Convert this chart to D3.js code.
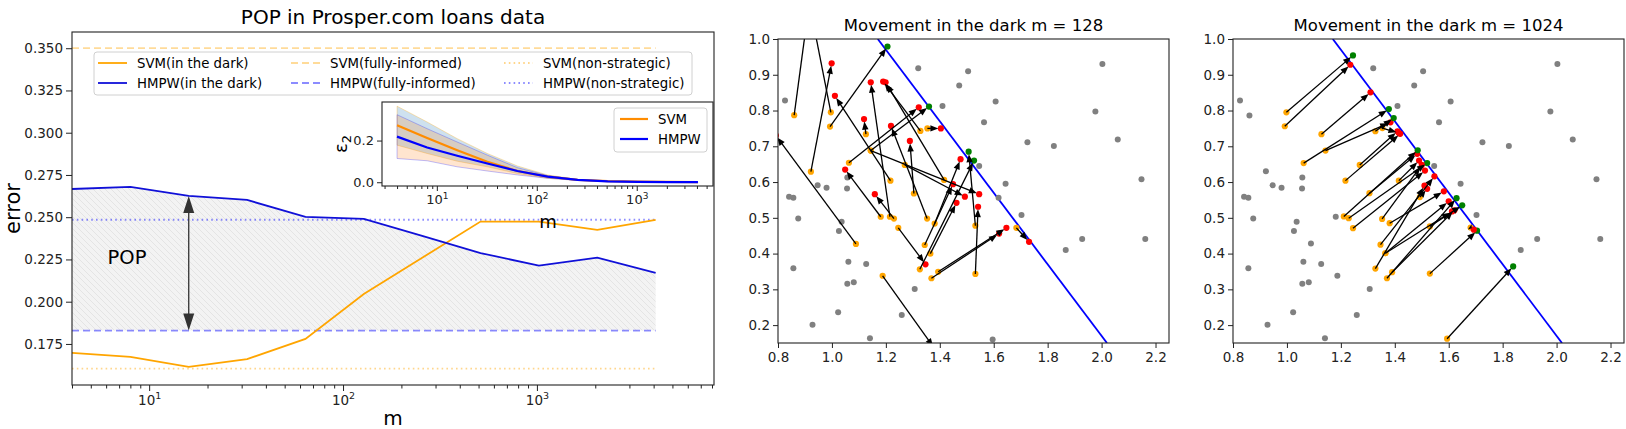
<!DOCTYPE html>
<html>
<head>
<meta charset="utf-8">
<script src="https://cdn.jsdelivr.net/npm/d3@7"></script>
<style>
  body { margin: 0; background: #fff; }
  svg { display: block; }
</style>
</head>
<body>
<svg id="chart" width="1626" height="429"></svg>
<script>
// Données du panneau de gauche (erreur selon m)
const mValues = [4, 8, 16, 32, 64, 128, 256, 512, 1024, 2048, 4096];
const svmDark = [0.1697, 0.1673, 0.1614, 0.1660, 0.1780, 0.2046, 0.2260, 0.2474, 0.2474, 0.2425, 0.2484];
const hmpwDark = [0.2667, 0.2679, 0.2626, 0.2602, 0.2502, 0.2490, 0.2390, 0.2288, 0.2213, 0.2261, 0.2170];
const svmFull = 0.350;
const hmpwFull = 0.1829;
const svmNonStrategic = 0.1604;
const hmpwNonStrategic = 0.2485;
const yTicksMain = [0.175, 0.200, 0.225, 0.250, 0.275, 0.300, 0.325, 0.350];

// Encart : epsilon_2 selon m
const svmEps = [0.273, 0.212, 0.154, 0.098, 0.054, 0.027, 0.011, 0.005, 0.003, 0.002, 0.001];
const hmpwEps = [0.219, 0.167, 0.127, 0.090, 0.054, 0.027, 0.011, 0.004, 0.002, 0.001, 0.001];
const svmEpsHigh = [0.365, 0.289, 0.209, 0.138, 0.078, 0.035, 0.014, 0.006, 0.003, 0.002, 0.001];
const svmEpsLow = [0.178, 0.138, 0.101, 0.074, 0.042, 0.019, 0.009, 0.004, 0.002, 0.001, 0.000];
const hmpwEpsHigh = [0.324, 0.257, 0.193, 0.130, 0.070, 0.032, 0.013, 0.006, 0.003, 0.002, 0.001];
const hmpwEpsLow = [0.114, 0.103, 0.074, 0.054, 0.035, 0.019, 0.009, 0.003, 0.001, 0.001, 0.000];

// Panneaux de mouvement : points fixes (gris)
const grayCommon = [
  [0.826, 0.828], [1.320, 0.918], [1.505, 0.910], [1.472, 0.870], [1.607, 0.825], [1.410, 0.813],
  [1.564, 0.767], [2.003, 0.930], [1.977, 0.797], [2.060, 0.719], [1.725, 0.711], [1.823, 0.701],
  [1.546, 0.645], [1.644, 0.595], [1.703, 0.508], [2.148, 0.608], [1.928, 0.441], [1.867, 0.410],
  [2.162, 0.441], [1.057, 0.613], [1.056, 0.582], [0.947, 0.591], [0.980, 0.584], [0.841, 0.559],
  [0.857, 0.556], [0.875, 0.498], [1.036, 0.489], [1.026, 0.463], [0.857, 0.359], [1.061, 0.377],
  [1.127, 0.371], [1.057, 0.316], [1.081, 0.320], [1.307, 0.301], [1.023, 0.236], [0.928, 0.201],
  [1.259, 0.228], [1.141, 0.163]
];
const grayOnly128 = [[1.596, 0.160], [1.618, 0.556]];
const grayOnly1024 = [[0.861, 0.786], [0.922, 0.630], [1.089, 0.428], [1.187, 0.338], [1.181, 0.503]];

// Déplacements : [x départ, y départ, x arrivée, y arrivée, couleur d'arrivée]
const moves128 = [
  [0.860, 0.787, 0.905, 1.040, 'red'], [0.996, 0.795, 0.932, 1.040, 'red'],
  [0.922, 0.629, 0.999, 0.932, 'red'], [0.993, 0.755, 1.206, 0.979, 'green'],
  [1.089, 0.427, 0.792, 0.730, 'red'], [1.217, 0.604, 1.011, 0.841, 'red'],
  [1.188, 0.338, 1.380, 0.135, 'red'], [1.063, 0.654, 1.322, 0.809, 'red'],
  [1.144, 0.688, 1.360, 0.811, 'green'], [1.126, 0.734, 1.119, 0.776, 'red'],
  [1.215, 0.503, 1.144, 0.879, 'red'], [1.328, 0.743, 1.190, 0.881, 'red'],
  [1.416, 0.606, 1.199, 0.879, 'red'], [1.353, 0.498, 1.219, 0.757, 'red'],
  [1.354, 0.750, 1.404, 0.750, 'red'], [1.304, 0.568, 1.289, 0.715, 'red'],
  [1.181, 0.503, 1.049, 0.635, 'red'], [1.230, 0.498, 1.159, 0.566, 'red'],
  [1.381, 0.484, 1.477, 0.664, 'red'], [1.532, 0.478, 1.507, 0.685, 'green'],
  [1.344, 0.424, 1.449, 0.594, 'red'], [1.365, 0.400, 1.462, 0.542, 'red'],
  [1.326, 0.356, 1.527, 0.660, 'green'], [1.532, 0.343, 1.542, 0.531, 'red'],
  [1.246, 0.472, 1.347, 0.370, 'red'], [1.394, 0.349, 1.647, 0.472, 'red'],
  [1.369, 0.331, 1.620, 0.456, 'red'], [1.684, 0.472, 1.731, 0.433, 'red'],
  [1.144, 0.688, 1.546, 0.566, 'red'], [1.270, 0.648, 1.493, 0.559, 'red']
];
const moves1024 = [
  [0.998, 0.795, 1.245, 0.954, 'green'], [0.992, 0.756, 1.235, 0.928, 'red'],
  [1.128, 0.734, 1.310, 0.851, 'red'], [1.062, 0.653, 1.378, 0.804, 'green'],
  [1.143, 0.688, 1.384, 0.767, 'red'], [1.328, 0.742, 1.396, 0.779, 'green'],
  [1.354, 0.751, 1.415, 0.737, 'red'], [1.270, 0.648, 1.410, 0.742, 'red'],
  [1.217, 0.604, 1.420, 0.735, 'red'], [1.306, 0.569, 1.483, 0.679, 'red'],
  [1.211, 0.504, 1.485, 0.689, 'green'], [1.229, 0.499, 1.520, 0.653, 'green'],
  [1.245, 0.471, 1.512, 0.632, 'red'], [1.353, 0.497, 1.500, 0.648, 'red'],
  [1.415, 0.604, 1.490, 0.660, 'red'], [1.381, 0.485, 1.582, 0.574, 'red'],
  [1.493, 0.558, 1.520, 0.581, 'red'], [1.347, 0.425, 1.547, 0.616, 'red'],
  [1.365, 0.401, 1.600, 0.546, 'red'], [1.328, 0.358, 1.510, 0.590, 'red'],
  [1.390, 0.348, 1.621, 0.521, 'red'], [1.371, 0.331, 1.629, 0.555, 'green'],
  [1.530, 0.476, 1.650, 0.535, 'green'], [1.530, 0.344, 1.705, 0.464, 'green'],
  [1.681, 0.473, 1.693, 0.467, 'red'], [1.594, 0.162, 1.839, 0.364, 'green'],
  [1.365, 0.401, 1.612, 0.518, 'red']
];
// Frontière de décision
const boundary = [[1.17, 1.0], [2.02, 0.15]];
const xTicksMove = [0.8, 1.0, 1.2, 1.4, 1.6, 1.8, 2.0, 2.2];
const yTicksMove = [0.2, 0.3, 0.4, 0.5, 0.6, 0.7, 0.8, 0.9, 1.0];

const font = '"DejaVu Sans", sans-serif';
const ink = '#222';
const svg = d3.select('#chart');
const defs = svg.append('defs');

// Motif hachuré pour la zone POP
const hatch = defs.append('pattern')
    .attr('id', 'hatch')
    .attr('patternUnits', 'userSpaceOnUse')
    .attr('width', 6)
    .attr('height', 6);
hatch.append('rect').attr('width', 6).attr('height', 6).attr('fill', '#f3f3f3');
hatch.append('path')
    .attr('d', 'M0,0 L6,6 M-1,5 L1,7 M5,-1 L7,1')
    .attr('stroke', '#e2e2e2')
    .attr('stroke-width', 0.9);

function styleAxis(g, size) {
    g.select('.domain').remove();
    g.attr('font-family', font).attr('font-size', size);
    g.selectAll('.tick line').attr('stroke', ink);
    g.selectAll('.tick text').attr('fill', ink);
}

// Étiquettes 10^k
function powerLabels(g, supSize) {
    g.selectAll('.tick text').each(function (d) {
        const t = d3.select(this).text('');
        t.append('tspan').text('10');
        t.append('tspan')
            .attr('dy', '-0.55em')
            .attr('font-size', supSize)
            .text(Math.round(Math.log10(d)));
    });
}

function minorLogTicks(domain) {
    const out = [];
    for (let p = 0; p < 5; p++) {
        for (let k = 2; k <= 9; k++) {
            const v = k * Math.pow(10, p);
            if (v >= domain[0] && v <= domain[1]) out.push(v);
        }
    }
    return out;
}

// ---------- Panneau de gauche ----------
const main = { left: 72, top: 32, right: 714, bottom: 385 };
const xMain = d3.scaleLog().domain([4, 8192]).range([main.left, main.right]);
const yMain = d3.scaleLinear().domain([0.1507, 0.3596]).range([main.bottom, main.top]);
const rows = mValues.map((m, i) => ({ m, svm: svmDark[i], hmpw: hmpwDark[i] }));

svg.append('path')
    .datum(rows)
    .attr('fill', 'url(#hatch)')
    .attr('d', d3.area()
        .x(d => xMain(d.m))
        .y0(yMain(hmpwFull))
        .y1(d => yMain(d.hmpw)));

const mExtent = d3.extent(mValues);
const refLines = [
    { v: svmFull, color: 'rgba(255,165,0,0.4)', dash: '7,4' },
    { v: hmpwFull, color: 'rgba(0,0,255,0.45)', dash: '7,4' },
    { v: svmNonStrategic, color: 'rgba(255,165,0,0.45)', dash: '1.6,3.2' },
    { v: hmpwNonStrategic, color: 'rgba(0,0,255,0.45)', dash: '1.6,3.2' }
];
svg.append('g')
    .selectAll('line')
    .data(refLines)
    .enter()
    .append('line')
    .attr('x1', xMain(mExtent[0]))
    .attr('x2', xMain(mExtent[1]))
    .attr('y1', d => yMain(d.v))
    .attr('y2', d => yMain(d.v))
    .attr('stroke', d => d.color)
    .attr('stroke-width', 1.8)
    .attr('stroke-dasharray', d => d.dash);

svg.append('path')
    .datum(rows)
    .attr('fill', 'none')
    .attr('stroke', 'orange')
    .attr('stroke-width', 1.8)
    .attr('d', d3.line().x(d => xMain(d.m)).y(d => yMain(d.svm)));

svg.append('path')
    .datum(rows)
    .attr('fill', 'none')
    .attr('stroke', '#1010d8')
    .attr('stroke-width', 1.8)
    .attr('d', d3.line().x(d => xMain(d.m)).y(d => yMain(d.hmpw)));

// Flèche double POP à m = 16
const popX = xMain(mValues[2]);
const popTop = yMain(hmpwDark[2]);
const popBottom = yMain(hmpwFull);
svg.append('line')
    .attr('x1', popX).attr('x2', popX)
    .attr('y1', popTop + 15).attr('y2', popBottom - 15)
    .attr('stroke', '#333')
    .attr('stroke-width', 1.3);
svg.append('path')
    .attr('fill', '#333')
    .attr('d', `M${popX},${popTop} L${popX - 5.5},${popTop + 17} L${popX + 5.5},${popTop + 17} Z
                M${popX},${popBottom} L${popX - 5.5},${popBottom - 17} L${popX + 5.5},${popBottom - 17} Z`);
svg.append('text')
    .attr('x', 127)
    .attr('y', 264)
    .attr('text-anchor', 'middle')
    .attr('font-family', font)
    .attr('font-size', 19.5)
    .text('POP');

// Axes du panneau de gauche
const gxMain = svg.append('g')
    .attr('transform', `translate(0,${main.bottom})`)
    .call(d3.axisBottom(xMain).tickValues([10, 100, 1000]).tickSize(6).tickPadding(4));
styleAxis(gxMain, 13.5);
powerLabels(gxMain, 9.5);
const gxMainMinor = svg.append('g')
    .attr('transform', `translate(0,${main.bottom})`)
    .call(d3.axisBottom(xMain).tickValues(minorLogTicks([4, 8192])).tickSize(3.5).tickFormat(''));
styleAxis(gxMainMinor, 10);

const gyMain = svg.append('g')
    .attr('transform', `translate(${main.left},0)`)
    .call(d3.axisLeft(yMain).tickValues(yTicksMain).tickSize(6).tickPadding(3).tickFormat(d3.format('.3f')));
styleAxis(gyMain, 13.5);

svg.append('rect')
    .attr('x', main.left).attr('y', main.top)
    .attr('width', main.right - main.left).attr('height', main.bottom - main.top)
    .attr('fill', 'none').attr('stroke', ink).attr('stroke-width', 1.1);

svg.append('text')
    .attr('x', (main.left + main.right) / 2).attr('y', 24)
    .attr('text-anchor', 'middle')
    .attr('font-family', font).attr('font-size', 20)
    .text('POP in Prosper.com loans data');
svg.append('text')
    .attr('x', (main.left + main.right) / 2).attr('y', 425)
    .attr('text-anchor', 'middle')
    .attr('font-family', font).attr('font-size', 20)
    .text('m');
svg.append('text')
    .attr('transform', `translate(20,${(main.top + main.bottom) / 2}) rotate(-90)`)
    .attr('text-anchor', 'middle')
    .attr('font-family', font).attr('font-size', 21)
    .text('error');

// Légende principale
const legendItems = [
    { label: 'SVM(in the dark)', color: 'orange', dash: null, x: 98, row: 0 },
    { label: 'HMPW(in the dark)', color: '#1010d8', dash: null, x: 98, row: 1 },
    { label: 'SVM(fully-informed)', color: 'rgba(255,165,0,0.4)', dash: '7,4', x: 291, row: 0 },
    { label: 'HMPW(fully-informed)', color: 'rgba(0,0,255,0.45)', dash: '7,4', x: 291, row: 1 },
    { label: 'SVM(non-strategic)', color: 'rgba(255,165,0,0.45)', dash: '1.6,3.2', x: 504, row: 0 },
    { label: 'HMPW(non-strategic)', color: 'rgba(0,0,255,0.45)', dash: '1.6,3.2', x: 504, row: 1 }
];
const legend = svg.append('g');
legend.append('rect')
    .attr('x', 94).attr('y', 52).attr('width', 598).attr('height', 43).attr('rx', 3)
    .attr('fill', 'white').attr('fill-opacity', 0.8)
    .attr('stroke', '#d0d0d0');
legendItems.forEach(it => {
    const ly = 63 + it.row * 20;
    legend.append('line')
        .attr('x1', it.x).attr('x2', it.x + 29)
        .attr('y1', ly).attr('y2', ly)
        .attr('stroke', it.color).attr('stroke-width', 1.8)
        .attr('stroke-dasharray', it.dash);
    legend.append('text')
        .attr('x', it.x + 39).attr('y', ly + 5)
        .attr('font-family', font).attr('font-size', 13.3)
        .text(it.label);
});

// ---------- Encart epsilon_2 ----------
const inset = { left: 382, top: 102, right: 713, bottom: 186 };
const xIn = d3.scaleLog().domain([Math.pow(10, 0.4515), Math.pow(10, 3.7628)]).range([inset.left, inset.right]);
const yIn = d3.scaleLinear().domain([-0.018, 0.385]).range([inset.bottom, inset.top]);
const epsRows = mValues.map((m, i) => ({
    m, svm: svmEps[i], hmpw: hmpwEps[i],
    svmHi: svmEpsHigh[i], svmLo: svmEpsLow[i], hmpwHi: hmpwEpsHigh[i], hmpwLo: hmpwEpsLow[i]
}));

svg.append('rect')
    .attr('x', inset.left).attr('y', inset.top)
    .attr('width', inset.right - inset.left).attr('height', inset.bottom - inset.top)
    .attr('fill', 'white');

svg.append('path')
    .datum(epsRows)
    .attr('fill', '#1f77b4').attr('fill-opacity', 0.22)
    .attr('stroke', 'orange').attr('stroke-opacity', 0.3)
    .attr('d', d3.area().x(d => xIn(d.m)).y0(d => yIn(d.svmLo)).y1(d => yIn(d.svmHi)));
svg.append('path')
    .datum(epsRows)
    .attr('fill', '#ff7f0e').attr('fill-opacity', 0.2)
    .attr('stroke', 'blue').attr('stroke-opacity', 0.25)
    .attr('d', d3.area().x(d => xIn(d.m)).y0(d => yIn(d.hmpwLo)).y1(d => yIn(d.hmpwHi)));
svg.append('path')
    .datum(epsRows)
    .attr('fill', 'none').attr('stroke', 'darkorange').attr('stroke-width', 2.2)
    .attr('d', d3.line().x(d => xIn(d.m)).y(d => yIn(d.svm)));
svg.append('path')
    .datum(epsRows)
    .attr('fill', 'none').attr('stroke', 'blue').attr('stroke-width', 2.2)
    .attr('d', d3.line().x(d => xIn(d.m)).y(d => yIn(d.hmpw)));

const gxIn = svg.append('g')
    .attr('transform', `translate(0,${inset.bottom})`)
    .call(d3.axisBottom(xIn).tickValues([10, 100, 1000]).tickSize(5).tickPadding(4));
styleAxis(gxIn, 13);
powerLabels(gxIn, 9);
const gxInMinor = svg.append('g')
    .attr('transform', `translate(0,${inset.bottom})`)
    .call(d3.axisBottom(xIn).tickValues(minorLogTicks(xIn.domain())).tickSize(3).tickFormat(''));
styleAxis(gxInMinor, 10);
const gyIn = svg.append('g')
    .attr('transform', `translate(${inset.left},0)`)
    .call(d3.axisLeft(yIn).tickValues([0, 0.2]).tickSize(5).tickPadding(3).tickFormat(d3.format('.1f')));
styleAxis(gyIn, 13);

svg.append('rect')
    .attr('x', inset.left).attr('y', inset.top)
    .attr('width', inset.right - inset.left).attr('height', inset.bottom - inset.top)
    .attr('fill', 'none').attr('stroke', ink).attr('stroke-width', 1.1);

svg.append('text')
    .attr('x', 548).attr('y', 228)
    .attr('text-anchor', 'middle')
    .attr('font-family', font).attr('font-size', 18)
    .text('m');
const epsLabel = svg.append('text')
    .attr('transform', `translate(347,${(inset.top + inset.bottom) / 2}) rotate(-90)`)
    .attr('text-anchor', 'middle')
    .attr('font-family', font).attr('font-size', 18);
epsLabel.append('tspan').text('ε');
epsLabel.append('tspan').attr('dy', '0.3em').attr('font-size', 13).text('2');

const insetLegend = svg.append('g');
insetLegend.append('rect')
    .attr('x', 614).attr('y', 108).attr('width', 93).attr('height', 44).attr('rx', 3)
    .attr('fill', 'white').attr('fill-opacity', 0.8)
    .attr('stroke', '#d0d0d0');
[['SVM', 'darkorange'], ['HMPW', 'blue']].forEach(([label, color], i) => {
    const ly = 119 + i * 20;
    insetLegend.append('line')
        .attr('x1', 620).attr('x2', 648).attr('y1', ly).attr('y2', ly)
        .attr('stroke', color).attr('stroke-width', 2.2);
    insetLegend.append('text')
        .attr('x', 658).attr('y', ly + 5)
        .attr('font-family', font).attr('font-size', 13.3)
        .text(label);
});

// ---------- Panneaux de mouvement ----------
function drawArrow(g, x, y, d) {
    const x0 = x(d[0]), y0 = y(d[1]), x1 = x(d[2]), y1 = y(d[3]);
    const len = Math.hypot(x1 - x0, y1 - y0);
    const ux = (x1 - x0) / len, uy = (y1 - y0) / len;
    const tipX = x1 - ux * 2.5, tipY = y1 - uy * 2.5;
    const head = Math.min(8, len * 0.6);
    const bx = tipX - ux * head, by = tipY - uy * head;
    const px = -uy * 3.2, py = ux * 3.2;
    g.append('line')
        .attr('x1', x0).attr('y1', y0).attr('x2', bx + ux * 1).attr('y2', by + uy * 1)
        .attr('stroke', 'black').attr('stroke-width', 1.3);
    g.append('path')
        .attr('d', `M${tipX},${tipY} L${bx + px},${by + py} L${bx - px},${by - py} Z`)
        .attr('fill', 'black');
}

function movementPanel(id, left, title, grayExtra, moves) {
    const panel = { left, top: 39, right: left + 391, bottom: 343 };
    const x = d3.scaleLinear().domain([0.8, 2.25]).range([panel.left, panel.right]);
    const y = d3.scaleLinear().domain([0.15, 1.0]).range([panel.bottom, panel.top]);

    defs.append('clipPath').attr('id', id)
        .append('rect')
        .attr('x', panel.left).attr('y', panel.top)
        .attr('width', panel.right - panel.left).attr('height', panel.bottom - panel.top);

    const g = svg.append('g').attr('clip-path', `url(#${id})`);

    g.append('line')
        .attr('x1', x(boundary[0][0])).attr('y1', y(boundary[0][1]))
        .attr('x2', x(boundary[1][0])).attr('y2', y(boundary[1][1]))
        .attr('stroke', 'blue').attr('stroke-width', 1.8);

    g.selectAll('circle.gray')
        .data(grayCommon.concat(grayExtra))
        .enter()
        .append('circle')
        .attr('class', 'gray')
        .attr('cx', d => x(d[0])).attr('cy', d => y(d[1]))
        .attr('r', 3).attr('fill', 'gray');

    g.selectAll('circle.start')
        .data(moves)
        .enter()
        .append('circle')
        .attr('class', 'start')
        .attr('cx', d => x(d[0])).attr('cy', d => y(d[1]))
        .attr('r', 3.1).attr('fill', 'orange');

    g.selectAll('circle.end')
        .data(moves)
        .enter()
        .append('circle')
        .attr('class', 'end')
        .attr('cx', d => x(d[2])).attr('cy', d => y(d[3]))
        .attr('r', 3.1).attr('fill', d => d[4]);

    moves.forEach(d => drawArrow(g, x, y, d));

    const gx = svg.append('g')
        .attr('transform', `translate(0,${panel.bottom})`)
        .call(d3.axisBottom(x).tickValues(xTicksMove).tickSize(5).tickPadding(4).tickFormat(d3.format('.1f')));
    styleAxis(gx, 13.5);
    const gy = svg.append('g')
        .attr('transform', `translate(${panel.left},0)`)
        .call(d3.axisLeft(y).tickValues(yTicksMove).tickSize(5).tickPadding(3).tickFormat(d3.format('.1f')));
    styleAxis(gy, 13.5);

    svg.append('rect')
        .attr('x', panel.left).attr('y', panel.top)
        .attr('width', panel.right - panel.left).attr('height', panel.bottom - panel.top)
        .attr('fill', 'none').attr('stroke', ink).attr('stroke-width', 1.1);

    svg.append('text')
        .attr('x', (panel.left + panel.right) / 2).attr('y', 31)
        .attr('text-anchor', 'middle')
        .attr('font-family', font).attr('font-size', 16.5)
        .text(title);
}

movementPanel('clip128', 778, 'Movement in the dark m = 128', grayOnly128, moves128);
movementPanel('clip1024', 1233, 'Movement in the dark m = 1024', grayOnly1024, moves1024);
</script>
</body>
</html>
